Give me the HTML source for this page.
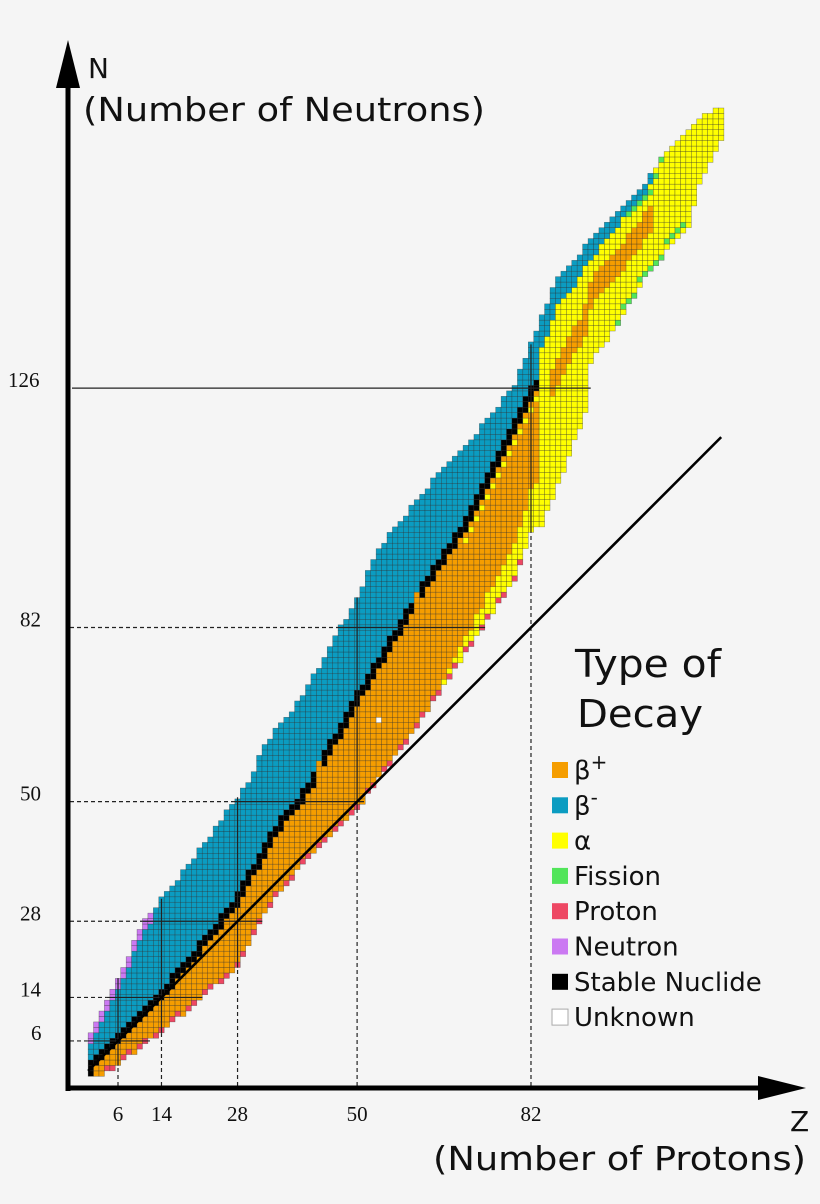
<!DOCTYPE html>
<html>
<head>
<meta charset="utf-8">
<style>
  html,body{margin:0;padding:0;background:#f5f5f5;}
  svg{display:block;}
  text{font-family:"DejaVu Sans","Liberation Sans",sans-serif;fill:#111;}
  .tick{font-family:"Liberation Serif",serif;font-size:21px;}
</style>
</head>
<body>
<svg id="chart" width="820" height="1204" viewBox="0 0 820 1204">
  <rect x="0" y="0" width="820" height="1204" fill="#f5f5f5"/>
  <g id="cells"></g>
  <g id="magic"></g>
  <line id="zn-line" stroke="#000" stroke-width="2.6"/>

  <line x1="68" y1="70" x2="68" y2="1091" stroke="#000" stroke-width="5"/>
  <polygon points="68,40 56,88 80,88" fill="#000"/>
  <line x1="66" y1="1088" x2="770" y2="1088" stroke="#000" stroke-width="5"/>
  <polygon points="806,1088 758,1076 758,1100" fill="#000"/>

  <text x="88" y="78" font-size="28">N</text>
  <text x="83" y="121" font-size="33" textLength="402" lengthAdjust="spacingAndGlyphs">(Number of Neutrons)</text>
  <text x="790" y="1131" font-size="28">Z</text>
  <text x="433" y="1170" font-size="33" textLength="373" lengthAdjust="spacingAndGlyphs">(Number of Protons)</text>

  <g id="yticks"></g>
  <g id="xticks"></g>

  <g>
    <text x="575" y="677" font-size="38" textLength="146" lengthAdjust="spacingAndGlyphs">Type of</text>
    <text x="577" y="727" font-size="38" textLength="126" lengthAdjust="spacingAndGlyphs">Decay</text>
    <g id="legend-items"></g>
  </g>
</svg>
<script>
// ---- data ----
const minZ = [1,3,6,14,28,33,41,50,63,73,79,82,84,89,92,93,95,98,103,106,108,111,113,117];
const minN = [0,0,2,8,20,30,40,49,67,82,91,100,101,114,122,131,134,138,147,150,153,156,164,172];
const maxZ = [1,6,11,16,22,30,33,40,50,54,65,71,79,87,97,102,107,114,117];
const maxN = [7,17,28,34,42,53,60,69,87,96,110,116,126,146,157,162,169,176,177];
const stableZ = [1,2,6,10,14,20,28,35,42,50,56,62,70,76,83];
const stableN = [0,2,6,10,14,21,31,44,53,68,78,88,100,112,126];
const magicNumbers = [6,14,28,50,82,126];
const xTickLabels = [6,14,28,50,82];
const yTickLabels = [6,14,28,50,82,126];
const legendLabels = ["β+","β-","α","Fission","Proton","Neutron","Stable Nuclide","Unknown"];
const legendColors = ["#f59d00","#0b9cc1","#ffff00","#52e55a","#ee4763","#cb79f2","#000000","#ffffff"];

// ---- axes ----
const X = z => 85.4 + 5.434*z;
const Y = n => 1073.6 - 5.44*n;
const CS = 5.43;
function interp(zs, ns, z){
  if(z<=zs[0]) return ns[0];
  for(let i=1;i<zs.length;i++){
    if(z<=zs[i]){const t=(z-zs[i-1])/(zs[i]-zs[i-1]);return ns[i-1]+t*(ns[i]-ns[i-1]);}
  }
  return ns[ns.length-1];
}
const SVGNS="http://www.w3.org/2000/svg";
const C = {bp:legendColors[0],bm:legendColors[1],a:legendColors[2],f:legendColors[3],p:legendColors[4],n:legendColors[5],s:legendColors[6],u:legendColors[7]};

const cells=document.getElementById('cells');
const zMax = maxZ[maxZ.length-1];
for(let z=1; z<=zMax; z++){
  const lo=Math.round(interp(minZ,minN,z));
  const hi=Math.round(interp(maxZ,maxN,z));
  const sc=Math.round(interp(stableZ,stableN,z));
  const scNext=Math.round(interp(stableZ,stableN,z+1));
  for(let n=lo; n<=hi; n++){
    let col;
    if(z<=83){
      const sHi=Math.max(sc+1, scNext);
      if(n>=sc && n<=sHi && z!==43 && z!==61) col=C.s;
      else if(n>sHi){ col = (z<=12 && n>=hi-1) ? C.n : C.bm; }
      else {
        const w = Math.max(0,(z-64)*0.4);
        if(n===lo && z>=3 && z<=81 && (z%3!==0)) col=C.p;
        else if(z>=64 && n<=lo+w) col=C.a;
        else col=C.bp;
        if(z>=70 && n>=sc-2 && n<sc && (z+n)%3===0) col=C.a;
      }
      if(z===54 && n===65) col=C.u;
    } else {
      const bw = z<100 ? Math.round(6-(z-84)*0.25) : (z<105?2:0);
      const c = lo + (hi-lo)*0.55;
      if(n>hi-bw) col=C.bm;
      else if(z>=86 && z<=104 && Math.abs(n-c)<=2.5) col=C.bp;
      else if(z>=98 && z<=110 && ((n-lo)<=1 && (z+n)%2===0)) col=C.f;
      else if(z>=100 && z<=106 && n>=hi-bw-1 && (z+n)%2===0) col=C.f;
      else col=C.a;
    }
    const r=document.createElementNS(SVGNS,'rect');
    r.setAttribute('x',(X(z)-CS/2).toFixed(2));
    r.setAttribute('y',(Y(n)-CS/2).toFixed(2));
    r.setAttribute('width',CS);
    r.setAttribute('height',CS);
    r.setAttribute('fill',col);
    r.setAttribute('stroke','rgba(40,40,40,0.55)');
    r.setAttribute('stroke-width','0.5');
    
    
    cells.appendChild(r);
  }
}

const zn=document.getElementById('zn-line');
zn.setAttribute('x1',X(0.5)); zn.setAttribute('y1',Y(0.5));
zn.setAttribute('x2',X(117)); zn.setAttribute('y2',Y(117));

const mg=document.getElementById('magic');
function line(x1,y1,x2,y2,dash,name){
  const l=document.createElementNS(SVGNS,'line');
  l.setAttribute('x1',x1);l.setAttribute('y1',y1);l.setAttribute('x2',x2);l.setAttribute('y2',y2);
  l.setAttribute('stroke','#222');l.setAttribute('stroke-width','1.2');
  if(dash) l.setAttribute('stroke-dasharray','4,3');
  
  
  mg.appendChild(l);
}
magicNumbers.forEach(m=>{
  const zl=interp(maxN,maxZ,m);
  const zr=interp(minN,minZ,m);
  const xl=Math.max(70,X(zl)-3), xr=X(zr)+3;
  if(m!==126) line(70,Y(m),xl,Y(m),true,'magic-n-'+m+'-dashed');
  line(m===126?72:xl,Y(m),xr,Y(m),false,'magic-n-'+m);
  if(m<=82){
    const yb=Y(interp(minZ,minN,m))+3, yt=Y(interp(maxZ,maxN,m))-3;
    line(X(m),1086,X(m),yb,true,'magic-z-'+m+'-dashed');
    line(X(m),yb,X(m),yt,false,'magic-z-'+m);
  }
});

const yt=document.getElementById('yticks');
yTickLabels.forEach(v=>{
  const t=document.createElementNS(SVGNS,'text');
  t.setAttribute('x',v>=100?8:(v>=10?20:31));
  t.setAttribute('y',Y(v)-1);
  t.setAttribute('class','tick');
  
  
  t.textContent=v; yt.appendChild(t);
});
const xt=document.getElementById('xticks');
xTickLabels.forEach(v=>{
  const t=document.createElementNS(SVGNS,'text');
  t.setAttribute('x',X(v));
  t.setAttribute('y',1121);
  t.setAttribute('text-anchor','middle');
  t.setAttribute('class','tick');
  
  
  t.textContent=v; xt.appendChild(t);
});

const lg=document.getElementById('legend-items');
legendLabels.forEach((lab,i)=>{
  const cy=770+i*35.3;
  const r=document.createElementNS(SVGNS,'rect');
  r.setAttribute('x',552);r.setAttribute('y',cy-8);r.setAttribute('width',16);r.setAttribute('height',16);
  r.setAttribute('fill',legendColors[i]);
  if(i===7){r.setAttribute('stroke','#aaa');r.setAttribute('stroke-width','1');}
  
  
  lg.appendChild(r);
  const t=document.createElementNS(SVGNS,'text');
  t.setAttribute('x',574);t.setAttribute('y',cy+9);t.setAttribute('font-size','26');
  
  
  if(lab==="β+"||lab==="β-"){
    t.textContent='β';
    const s=document.createElementNS(SVGNS,'tspan');
    s.setAttribute('dy','-10');s.setAttribute('font-size','20');
    s.textContent=lab==="β+"?'+':'-';
    t.appendChild(s);
  } else t.textContent=lab;
  lg.appendChild(t);
});
</script>
</body>
</html>
